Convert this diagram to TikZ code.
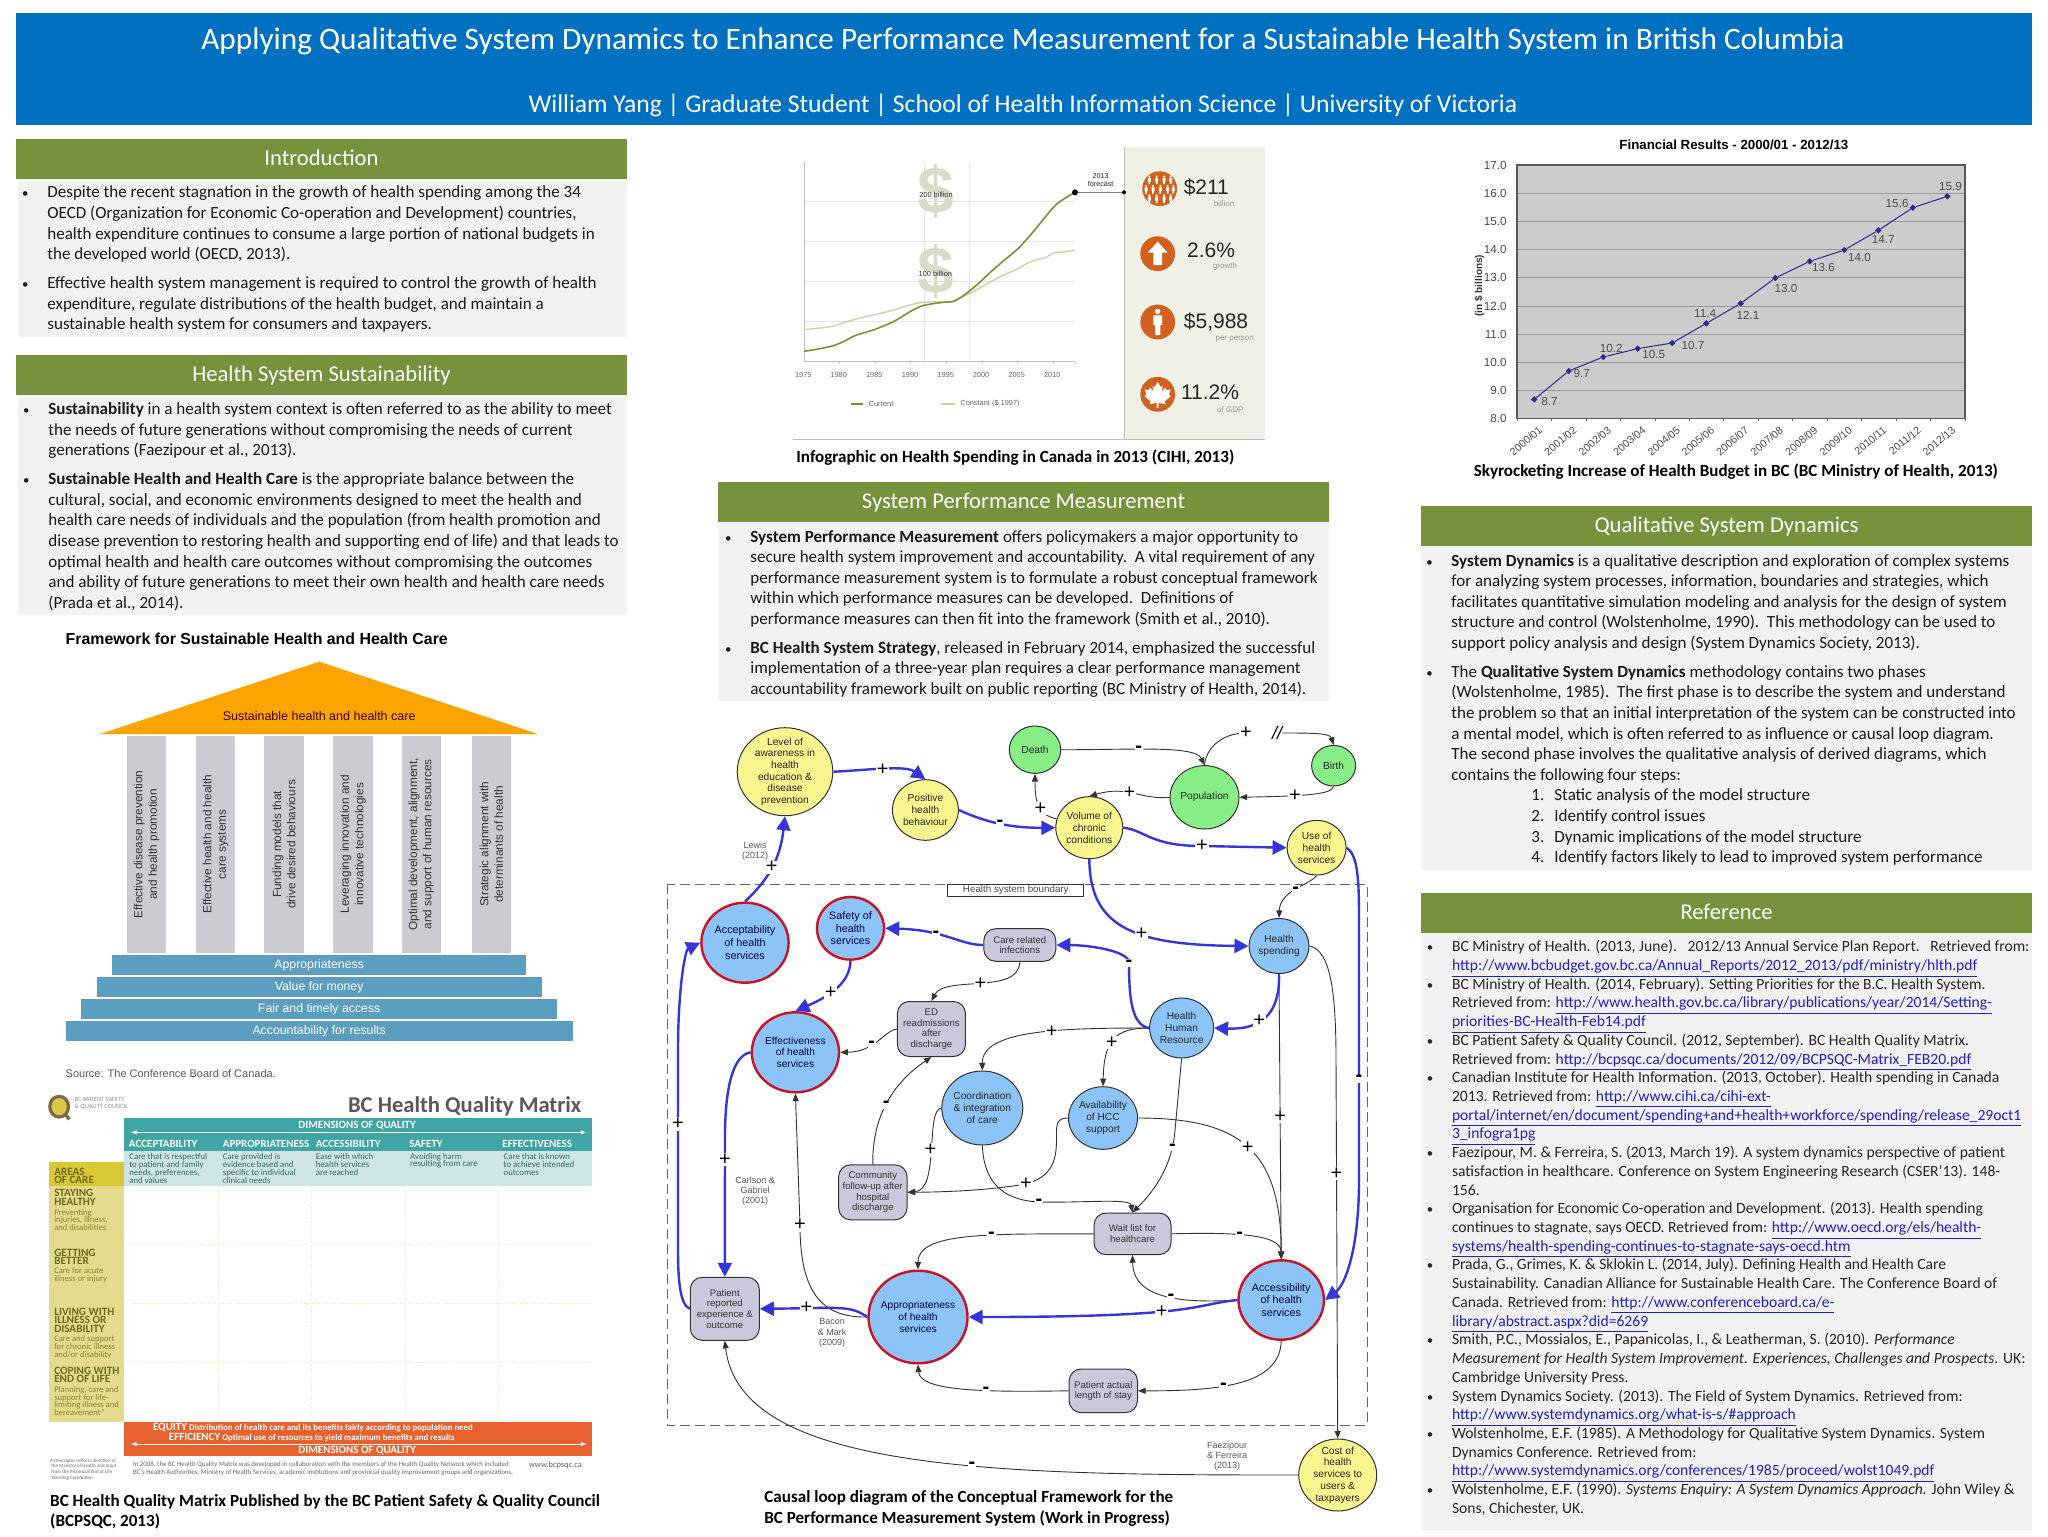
\documentclass[tikz,border=0pt]{standalone}
\usepackage{fontspec}
\setmainfont{Carlito}
\newfontfamily\arialfont{Liberation Sans}
\usepackage{xcolor}
\definecolor{DarkGrey}{HTML}{333333}
\definecolor{BannerBlue}{HTML}{0070C0}
\definecolor{SectionGreen}{HTML}{76923C}
\definecolor{BodyGrey}{HTML}{F2F2F2}
\definecolor{UrlBlue}{HTML}{1F1FD0}
\definecolor{RoofOrange}{HTML}{FCA400}
\definecolor{PillarGrey}{HTML}{C9CDD2}
\definecolor{StepBlue}{HTML}{5B9EBF}
\definecolor{MatrixTeal}{HTML}{3FA5A5}
\definecolor{MatrixPale}{HTML}{CDE5E5}
\definecolor{MatrixGold}{HTML}{D9C832}
\definecolor{MatrixSand}{HTML}{E4DC8C}
\definecolor{MatrixRed}{HTML}{E8622F}
\definecolor{MatrixInk}{HTML}{6B6A1E}
\definecolor{MatrixTint}{HTML}{8A8530}
\definecolor{MatrixTealInk}{HTML}{3A6B6B}
\definecolor{LogoBrown}{HTML}{7A6A45}
\definecolor{LogoLeaf}{HTML}{D8C84A}
\definecolor{PanelBeige}{HTML}{F0F1E6}
\definecolor{DollarTint}{HTML}{D9DDC8}
\definecolor{CurrentGreen}{HTML}{7F8F35}
\definecolor{ConstantTint}{HTML}{CDD1A8}
\definecolor{IconOrange}{HTML}{D2601E}
\definecolor{BudgetNavy}{HTML}{2A2A90}
\definecolor{PlotGrey}{HTML}{CCCCCC}
\definecolor{LoopBlue}{HTML}{3535DC}
\definecolor{LoopRed}{HTML}{CC1122}
\definecolor{NodeYellow}{HTML}{FAF68F}
\definecolor{NodeGreen}{HTML}{88EE88}
\definecolor{NodeBlue}{HTML}{8CC4F8}
\definecolor{NodeLilac}{HTML}{CCC8DC}
\usepackage{tikz}
\usetikzlibrary{arrows.meta,shapes.geometric,positioning}
\newcommand\Bul{\llap{{\fontsize{6.4}{6}\selectfont\textbullet}\hspace{9.4pt}}}
\newcommand\Url[1]{\textcolor{UrlBlue}{\underline{#1}}}
\newcommand\Num[1]{\hspace*{40pt}\makebox[11.5pt][l]{#1}}
\tikzstyle{banner}=[inner sep=0pt,text=white]
\tikzstyle{sechead}=[rectangle,fill=SectionGreen,text=white,inner sep=0pt,
                     minimum width=305.5pt,minimum height=20pt,text height=6.6pt,text depth=0pt,
                     font=\fontsize{11.3}{12}\selectfont]
\tikzstyle{bodytext}=[anchor=west,align=left,inner sep=0pt,text=black!90,
                     font=\fontsize{8.52}{10.3}\selectfont]
\tikzstyle{reftext}=[anchor=west,align=left,inner sep=0pt,text=black!85,
                     font=\fontsize{7.8}{9.36}\selectfont]
\tikzstyle{caption}=[inner sep=0pt,align=left,anchor=west,
                     font=\fontsize{8.53}{10.2}\selectfont\bfseries]
\tikzstyle{pillar}=[rectangle,fill=PillarGrey,inner sep=0pt,minimum width=19.6pt,minimum height=108.6pt]
\tikzstyle{pillartext}=[rotate=90,align=center,inner sep=0pt,text=black!80,
                     font=\arialfont\fontsize{5.9}{7.2}\selectfont]
\tikzstyle{stair}=[rectangle,fill=StepBlue,text=white,inner sep=0pt,minimum height=10pt,
                     font=\arialfont\fontsize{6.15}{6.5}\selectfont]
\tikzstyle{mhead}=[anchor=west,inner sep=0pt,text=white,font=\fontsize{5.5}{5.5}\selectfont\bfseries]
\tikzstyle{mdesc}=[anchor=west,align=left,inner sep=0pt,text=MatrixTealInk,font=\fontsize{4.4}{3.9}\selectfont]
\tikzstyle{marea}=[anchor=west,align=left,inner sep=0pt,text=MatrixInk,font=\fontsize{5.6}{4.3}\selectfont\bfseries]
\tikzstyle{mareadesc}=[anchor=west,align=left,inner sep=0pt,text=MatrixTint,font=\fontsize{4.3}{3.95}\selectfont]
\tikzstyle{mfine}=[anchor=west,align=left,inner sep=0pt,text=black!60,font=\fontsize{3.45}{4}\selectfont]
\tikzstyle{mline}=[white,line width=.5pt,{Latex[length=3pt]}-{Latex[length=3pt]}]
\tikzstyle{mdots}=[MatrixSand!70,line width=.3pt,densely dotted]
\tikzstyle{yearlabel}=[inner sep=0pt,text=black!60,font=\arialfont\fontsize{3.7}{4}\selectfont]
\tikzstyle{iconball}=[circle,fill=IconOrange,inner sep=0pt,minimum size=17.4pt]
\tikzstyle{bignum}=[inner sep=0pt,text=black!85,font=\arialfont\fontsize{10.5}{11}\selectfont]
\tikzstyle{subnum}=[inner sep=0pt,text=black!40,font=\arialfont\fontsize{4}{5}\selectfont]
\tikzstyle{budgetlabel}=[inner sep=0pt,text=black!70,font=\arialfont\fontsize{5.85}{6}\selectfont]
\tikzstyle{budgetmark}=[diamond,fill=BudgetNavy,inner sep=0pt,minimum size=3.4pt]
\tikzstyle{budgetyear}=[rotate=40,anchor=north east,inner sep=0pt,text=black!70,font=\arialfont\fontsize{5.3}{6}\selectfont]
\tikzstyle{bubble}=[ellipse,draw=DarkGrey,line width=.5pt,inner sep=-9pt,align=center,text=black!85,
                     font=\arialfont\fontsize{5.1}{5.85}\selectfont]
\tikzstyle{goal}=[bubble,draw=LoopRed,line width=1.2pt,fill=NodeBlue,text=blue!30!black]
\tikzstyle{stock}=[rectangle,rounded corners=6pt,draw=DarkGrey,line width=.5pt,fill=NodeLilac,inner sep=0pt,
                     align=center,text=black!80,font=\arialfont\fontsize{4.8}{5.3}\selectfont]
\tikzstyle{bluelink}=[draw=LoopBlue,line width=1.2pt,-{Triangle[length=7pt,width=7pt]}]
\tikzstyle{thinlink}=[draw=DarkGrey,line width=.45pt,-{Triangle[length=3.8pt,width=3pt]}]
\tikzstyle{sign}=[fill=white,inner sep=.4pt,text=black,font=\arialfont\fontsize{10}{10}\selectfont]
\tikzstyle{citation}=[inner sep=0pt,align=center,text=black!65,font=\arialfont\fontsize{4.5}{5.15}\selectfont]
\tikzset{mini/.pic={\fill[white] (0,-3.4) circle (1.15) (-1.5,-2) rectangle (1.5,1.6) (-.9,1.6) rectangle (.9,4.2);}}

\begin{document}
\begin{tikzpicture}[x=.5pt,y=-.5pt]
   \useasboundingbox (0,0) rectangle (2048,1536);
   \fill[white] (0,0) rectangle (2048,1536);
   % banner
   \fill[BannerBlue] (16,13) rectangle (2032,125);
   \node[banner,font=\fontsize{15.65}{17}\selectfont] (title) at (1023,41.5) {Applying Qualitative System Dynamics to Enhance Performance Measurement for a Sustainable Health System in British Columbia};
   \node[banner,font=\fontsize{12.8}{14}\selectfont] (author) at (1023,105.5) {William Yang \textbar{} Graduate Student \textbar{} School of Health Information Science \textbar{} University of Victoria};
   % grey text panels
   \fill[BodyGrey] (18,178) rectangle (627,337);
   \fill[BodyGrey] (18,394) rectangle (627,615);
   \fill[BodyGrey] (718,522) rectangle (1329,701);
   \fill[BodyGrey] (1421,546) rectangle (2032,870);
   \fill[BodyGrey] (1421,932) rectangle (2032,1530);
   \node[sechead] (introhead) at (321.5,158.5) {Introduction};
   \node[sechead] (hsshead) at (321.5,374.5) {Health System Sustainability};
   \node[sechead] (spmhead) at (1023.5,502) {System Performance Measurement};
   \node[sechead] (qsdhead) at (1726.5,525.5) {Qualitative System Dynamics};
   \node[sechead] (refhead) at (1726.5,912.5) {Reference};
   \node[bodytext] (introtext) at (47,259.3) {\Bul Despite the recent stagnation in the growth of health spending among the 34\\
      OECD (Organization for Economic Co-operation and Development) countries,\\
      health expenditure continues to consume a large portion of national budgets in\\
      the developed world (OECD, 2013).\\[4.1pt]
      \Bul Effective health system management is required to control the growth of health\\
      expenditure, regulate distributions of the health budget, and maintain a\\
      sustainable health system for consumers and taxpayers.};
   \node[bodytext] (hsstext) at (48,506.7) {\Bul\textbf{Sustainability} in a health system context is often referred to as the ability to meet\\
      the needs of future generations without compromising the needs of current\\
      generations (Faezipour et al., 2013).\\[4.1pt]
      \Bul\textbf{Sustainable Health and Health Care} is the appropriate balance between the\\
      cultural, social, and economic environments designed to meet the health and\\
      health care needs of individuals and the population (from health promotion and\\
      disease prevention to restoring health and supporting end of life) and that leads to\\
      optimal health and health care outcomes without compromising the outcomes\\
      and ability of future generations to meet their own health and health care needs\\
      (Prada et al., 2014).};
   \node[bodytext] (spmtext) at (750,613.8) {\Bul\textbf{System Performance Measurement} offers policymakers a major opportunity to\\
      secure health system improvement and accountability.\ \ A vital requirement of any\\
      performance measurement system is to formulate a robust conceptual framework\\
      within which performance measures can be developed.\ \ Definitions of\\
      performance measures can then fit into the framework (Smith et al., 2010).\\[4.1pt]
      \Bul\textbf{BC Health System Strategy}, released in February 2014, emphasized the successful\\
      implementation of a three-year plan requires a clear performance management\\
      accountability framework built on public reporting (BC Ministry of Health, 2014).};
   \node[bodytext] (qsdtext) at (1451,709.7) {\Bul\textbf{System Dynamics} is a qualitative description and exploration of complex systems\\
      for analyzing system processes, information, boundaries and strategies, which\\
      facilitates quantitative simulation modeling and analysis for the design of system\\
      structure and control (Wolstenholme, 1990).\ \ This methodology can be used to\\
      support policy analysis and design (System Dynamics Society, 2013).\\[4.1pt]
      \Bul The \textbf{Qualitative System Dynamics} methodology contains two phases\\
      (Wolstenholme, 1985).\ \ The first phase is to describe the system and understand\\
      the problem so that an initial interpretation of the system can be constructed into\\
      a mental model, which is often referred to as influence or causal loop diagram.\\
      The second phase involves the qualitative analysis of derived diagrams, which\\
      contains the following four steps:\\
      \Num{1.}Static analysis of the model structure\\
      \Num{2.}Identify control issues\\
      \Num{3.}Dynamic implications of the model structure\\
      \Num{4.}Identify factors likely to lead to improved system performance};
   \node[reftext] (reftext) at (1451.6,1227.8) {\Bul BC Ministry of Health. (2013, June).\hspace{3pt} 2012/13 Annual Service Plan Report.\hspace{3pt} Retrieved from:\\
      \Url{http://www.bcbudget.gov.bc.ca/Annual\_Reports/2012\_2013/pdf/ministry/hlth.pdf}\\
      \Bul BC Ministry of Health. (2014, February). Setting Priorities for the B.C. Health System.\\
      Retrieved from: \Url{http://www.health.gov.bc.ca/library/publications/year/2014/Setting-}\\
      \Url{priorities-BC-Health-Feb14.pdf}\\
      \Bul BC Patient Safety \& Quality Council. (2012, September). BC Health Quality Matrix.\\
      Retrieved from: \Url{http://bcpsqc.ca/documents/2012/09/BCPSQC-Matrix\_FEB20.pdf}\\
      \Bul Canadian Institute for Health Information. (2013, October). Health spending in Canada\\
      2013. Retrieved from: \Url{http://www.cihi.ca/cihi-ext-}\\
      \Url{portal/internet/en/document/spending+and+health+workforce/spending/release\_29oct1}\\
      \Url{3\_infogra1pg}\\
      \Bul Faezipour, M. \& Ferreira, S. (2013, March 19). A system dynamics perspective of patient\\
      satisfaction in healthcare. Conference on System Engineering Research (CSER'13). 148-\\
      156.\\
      \Bul Organisation for Economic Co-operation and Development. (2013). Health spending\\
      continues to stagnate, says OECD. Retrieved from: \Url{http://www.oecd.org/els/health-}\\
      \Url{systems/health-spending-continues-to-stagnate-says-oecd.htm}\\
      \Bul Prada, G., Grimes, K. \& Sklokin L. (2014, July). Defining Health and Health Care\\
      Sustainability. Canadian Alliance for Sustainable Health Care. The Conference Board of\\
      Canada. Retrieved from: \Url{http://www.conferenceboard.ca/e-}\\
      \Url{library/abstract.aspx?did=6269}\\
      \Bul Smith, P.C., Mossialos, E., Papanicolas, I., \& Leatherman, S. (2010). \textit{Performance}\\
      \textit{Measurement for Health System Improvement. Experiences, Challenges and Prospects.} UK:\\
      Cambridge University Press.\\
      \Bul System Dynamics Society. (2013). The Field of System Dynamics. Retrieved from:\\
      \Url{http://www.systemdynamics.org/what-is-s/\#approach}\\
      \Bul Wolstenholme, E.F. (1985). A Methodology for Qualitative System Dynamics. System\\
      Dynamics Conference. Retrieved from:\\
      \Url{http://www.systemdynamics.org/conferences/1985/proceed/wolst1049.pdf}\\
      \Bul Wolstenholme, E.F. (1990). \textit{Systems Enquiry: A System Dynamics Approach.} John Wiley \&\\
      Sons, Chichester, UK.};
   % framework temple
   \begin{scope}[shift={(0,620)},xscale=1/2.45,yscale=1/3]
      \node[anchor=west,inner sep=0pt,font=\arialfont\bfseries\fontsize{7.94}{9}\selectfont] (frametitle) at (160,56) {Framework for Sustainable Health and Health Care};
      \fill[RoofOrange] (782,125) -- (1318,342) -- (245,342) -- cycle;
      \node[inner sep=0pt,text=black!75!red,font=\arialfont\fontsize{6.26}{7}\selectfont] (rooftext) at (782,287) {Sustainable health and health care};
      \node[pillar] (pillara) at (359,673) {};
      \node[pillar] (pillarb) at (528,673) {};
      \node[pillar] (pillarc) at (696,673) {};
      \node[pillar] (pillard) at (865,673) {};
      \node[pillar] (pillare) at (1032,673) {};
      \node[pillar] (pillarf) at (1204,673) {};
      \node[pillartext] (pillaratext) at (359,673) {Effective disease prevention\\and health promotion};
      \node[pillartext] (pillarbtext) at (528,673) {Effective health and health\\care systems};
      \node[pillartext] (pillarctext) at (696,673) {Funding models that\\drive desired behaviours};
      \node[pillartext] (pillardtext) at (865,673) {Leveraging innovation and\\innovative technologies};
      \node[pillartext] (pillaretext) at (1032,673) {Optimal development, alignment,\\and support of human resources};
      \node[pillartext] (pillarftext) at (1204,673) {Strategic alignment with\\determinants of health};
      \node[stair,minimum width=207pt] (stepa) at (782,1035) {Appropriateness};
      \node[stair,minimum width=222.5pt] (stepb) at (782,1102) {Value for money};
      \node[stair,minimum width=238pt] (stepc) at (782,1168) {Fair and timely access};
      \node[stair,minimum width=253.5pt] (stepd) at (782,1234) {Accountability for results};
      \node[anchor=west,inner sep=0pt,text=black!65,font=\arialfont\fontsize{5.5}{6}\selectfont] (framesource) at (160,1362) {Source: The Conference Board of Canada.};
   \end{scope}
   % quality matrix
   \begin{scope}[shift={(0,1080)},xscale=1/2.45,yscale=1/3]
      \draw[LogoBrown,line width=1.6pt] (158,100) -- (170,118);
      \draw[LogoBrown,line width=1.6pt,fill=LogoLeaf] (145,80) ellipse (23 and 31);
      \node[inner sep=0pt,anchor=west,align=left,text=black!45,font=\fontsize{3.2}{3.1}\selectfont] (logotext) at (182,70) {BC PATIENT SAFETY\\\& QUALITY COUNCIL};
      \node[inner sep=0pt,anchor=east,text=black!65,font=\fontsize{11.3}{12}\selectfont\bfseries] (matrixtitle) at (1425,78) {BC Health Quality Matrix};
      \fill[MatrixTeal] (305,113) rectangle (1450,212);
      \fill[MatrixPale] (305,212) rectangle (1450,318);
      \fill[MatrixGold] (120,247) rectangle (305,318);
      \fill[MatrixSand] (120,318) rectangle (305,1025);
      \fill[MatrixRed] (305,1025) rectangle (1450,1129);
      \draw[mdots] (305,494) -- (1450,494) (305,670) -- (1450,670) (305,847) -- (1450,847);
      \draw[mdots] (535,318) -- (535,1025) (763,318) -- (763,1025) (994,318) -- (994,1025) (1222,318) -- (1222,1025);
      \node[inner sep=0pt,text=white,font=\fontsize{5.5}{6}\selectfont\bfseries] (dimtop) at (875,136) {DIMENSIONS OF QUALITY};
      \coordinate (dimtopl) at (320,157);
      \coordinate (dimtopr) at (1438,157);
      \draw[mline] (dimtopl) -- (dimtopr);
      \node[mhead] (headacc) at (315,193) {ACCEPTABILITY};
      \node[mhead] (headapp) at (545,193) {APPROPRIATENESS};
      \node[mhead] (headacs) at (773,193) {ACCESSIBILITY};
      \node[mhead] (headsaf) at (1002,193) {SAFETY};
      \node[mhead] (headeff) at (1230,193) {EFFECTIVENESS};
      \node[mdesc] (descacc) at (316,265) {Care that is respectful\\to patient and family\\needs, preferences,\\and values};
      \node[mdesc] (descapp) at (545,265) {Care provided is\\evidence based and\\specific to individual\\clinical needs};
      \node[mdesc] (descacs) at (773,254) {Ease with which\\health services\\are reached};
      \node[mdesc] (descsaf) at (1004,242) {Avoiding harm\\resulting from care};
      \node[mdesc] (desceff) at (1233,254) {Care that is known\\to achieve intended\\outcomes};
      \node[marea] (areahead) at (132,288) {AREAS\\OF CARE};
      \node[marea] (areaa) at (132,352) {STAYING\\HEALTHY};
      \node[mareadesc] (areaadesc) at (132,420) {Preventing\\injuries, illness,\\and disabilities};
      \node[marea] (areab) at (132,531) {GETTING\\BETTER};
      \node[mareadesc] (areabdesc) at (132,586) {Care for acute\\illness or injury};
      \node[marea] (areac) at (132,721) {LIVING WITH\\ILLNESS OR\\DISABILITY};
      \node[mareadesc] (areacdesc) at (132,801) {Care and support\\for chronic illness\\and/or disability};
      \node[marea] (aread) at (132,884) {COPING WITH\\END OF LIFE};
      \node[mareadesc] (areaddesc) at (132,963) {Planning, care and\\support for life-\\limiting illness and\\bereavement*};
      \node[mhead,font=\fontsize{4.4}{5}\selectfont\bfseries] (equity) at (374,1044) {{\fontsize{5.5}{5}\selectfont EQUITY} Distribution of health care and its benefits fairly according to population need};
      \node[mhead,font=\fontsize{4.4}{5}\selectfont\bfseries] (efficiency) at (413,1074) {{\fontsize{5.5}{5}\selectfont EFFICIENCY} Optimal use of resources to yield maximum benefits and results};
      \coordinate (dimlowl) at (320,1092);
      \coordinate (dimlowr) at (1438,1092);
      \draw[mline] (dimlowl) -- (dimlowr);
      \node[inner sep=0pt,text=white,font=\fontsize{5.5}{6}\selectfont\bfseries] (dimlow) at (875,1111) {DIMENSIONS OF QUALITY};
      \node[mfine,font=\fontsize{2.5}{2.85}\selectfont] (matrixfoot) at (122,1168) {A Descriptor reflects direction of\\\ the Ministry of Health and input\\\ from the Provincial End of Life\\\ Standing Committee.};
      \node[mfine] (matrixnote) at (325,1165) {In 2008, the BC Health Quality Matrix was developed in collaboration with the members of the Health Quality Network which included\\BC's Health Authorities, Ministry of Health Services, academic institutions and provincial quality improvement groups and organizations.};
      \node[mfine,font=\fontsize{4.2}{4.5}\selectfont] (matrixweb) at (1295,1156) {www.bcpsqc.ca};
      \node[caption] (matrixcap) at (122,1295) {BC Health Quality Matrix Published by the BC Patient Safety \& Quality Council\\(BCPSQC, 2013)};
   \end{scope}
   % spending infographic
   \begin{scope}[shift={(780,130)},scale=1/3]
      \fill[PanelBeige] (1032,52) rectangle (1455,928);
      \draw[black!25,line width=.5pt] (1032,52) -- (1032,928);
      \draw[black!25,line width=.4pt] (38,928) -- (1455,928);
      \draw[black!10,line width=.3pt] (72,214) -- (885,214) (72,335) -- (885,335) (72,455) -- (885,455) (72,575) -- (885,575);
      \draw[black!10,line width=.3pt] (433,95) -- (433,695) (568,95) -- (568,695);
      \draw[black!25,line width=.4pt] (72,95) -- (72,695) -- (885,695);
      \draw[black!25,line width=.3pt] (178,695) -- (178,703) (285,695) -- (285,703) (392,695) -- (392,703) (499,695) -- (499,703) (606,695) -- (606,703) (713,695) -- (713,703) (820,695) -- (820,703) (885,695) -- (885,703);
      \node[inner sep=0pt,text=DollarTint,font=\arialfont\bfseries\fontsize{33}{33}\selectfont] (dollarhi) at (467,185) {\$};
      \node[inner sep=0pt,text=DollarTint,font=\arialfont\bfseries\fontsize{33}{33}\selectfont] (dollarlo) at (467,425) {\$};
      \node[yearlabel,text=black!80] (billhi) at (468,194) {200 billion};
      \node[yearlabel,text=black!80] (billlo) at (466,433) {100 billion};
      \draw[ConstantTint,line width=.7pt] plot[smooth] coordinates {(72,599) (120,594) (160,588) (210,572) (270,557) (330,543) (380,528) (420,518) (480,515) (520,514) (560,495) (610,468) (660,440) (710,418) (750,396) (800,381) (820,369) (850,366) (885,360)};
      \draw[CurrentGreen,line width=.8pt] plot[smooth] coordinates {(72,664) (120,656) (160,647) (190,635) (225,617) (285,598) (340,575) (390,545) (425,528) (460,521) (490,517) (520,514) (550,497) (590,465) (630,428) (670,393) (715,355) (760,305) (820,232) (850,208) (885,187)};
      \node[circle,fill=black,inner sep=0pt,minimum size=3pt] (fcastdot) at (885,187) {};
      \node[circle,fill=black,inner sep=0pt,minimum size=2pt] (paneldot) at (1032,187) {};
      \draw[black!50,line width=.3pt] (fcastdot) -- (paneldot);
      \node[yearlabel,align=center,text=black!85,font=\arialfont\fontsize{3.6}{4.1}\selectfont] (fcast) at (962,150) {2013\\forecast};
      \node[yearlabel] (yra) at (70,735) {1975};
      \node[yearlabel] (yrb) at (176,735) {1980};
      \node[yearlabel] (yrc) at (283,735) {1985};
      \node[yearlabel] (yrd) at (390,735) {1990};
      \node[yearlabel] (yre) at (497,735) {1995};
      \node[yearlabel] (yrf) at (603,735) {2000};
      \node[yearlabel] (yrg) at (710,735) {2005};
      \node[yearlabel] (yrh) at (817,735) {2010};
      \coordinate (keycura) at (212,822);
      \coordinate (keycurb) at (250,822);
      \coordinate (keycona) at (484,822);
      \coordinate (keyconb) at (524,822);
      \draw[CurrentGreen,line width=.8pt] (keycura) -- (keycurb);
      \draw[ConstantTint,line width=.7pt] (keycona) -- (keyconb);
      \node[yearlabel,anchor=west] (keycur) at (265,822) {Current};
      \node[yearlabel,anchor=west] (keycon) at (540,822) {Constant (\$ 1997)};
      \node[iconball] (iconpeople) at (1139,176) {};
      \node[iconball] (iconarrow) at (1133,371) {};
      \node[iconball] (iconperson) at (1133,576) {};
      \node[iconball] (iconleaf) at (1133,793) {};
      \pic at (1108,150) {mini};
      \pic at (1130,150) {mini};
      \pic at (1152,150) {mini};
      \pic at (1172,150) {mini};
      \pic at (1098,178) {mini};
      \pic at (1119,178) {mini};
      \pic at (1141,178) {mini};
      \pic at (1163,178) {mini};
      \pic at (1180,178) {mini};
      \pic at (1108,206) {mini};
      \pic at (1130,206) {mini};
      \pic at (1152,206) {mini};
      \pic at (1172,206) {mini};
      \fill[white] (1133,335) -- (1163,368) -- (1146,368) -- (1146,405) -- (1120,405) -- (1120,368) -- (1103,368) -- cycle;
      \fill[white] (1133,544) circle (8) (1120,556) -- (1146,556) -- (1146,585) -- (1141,585) -- (1141,615) -- (1125,615) -- (1125,585) -- (1120,585) -- cycle;
      \fill[white] (1133,756) -- (1142,771) -- (1148,768) -- (1145,784) -- (1157,773) -- (1160,781) -- (1172,778) -- (1167,793) -- (1172,799) -- (1154,814) -- (1157,823) -- (1136,818) -- (1136,833) -- (1130,833) -- (1130,818) -- (1109,823) -- (1112,814) -- (1094,799) -- (1099,793) -- (1094,778) -- (1106,781) -- (1109,773) -- (1121,784) -- (1118,768) -- (1124,771) -- cycle;
      \node[bignum] (numa) at (1279,172) {\$211};
      \node[bignum] (numb) at (1293,362) {2.6\%};
      \node[bignum] (numc) at (1308,575) {\$5,988};
      \node[bignum] (numd) at (1290,788) {11.2\%};
      \node[subnum] (suba) at (1332,222) {billion};
      \node[subnum] (subb) at (1335,408) {growth};
      \node[subnum] (subc) at (1364,628) {per person};
      \node[subnum] (subd) at (1351,840) {of GDP};
      \node[caption] (spendcap) at (48,982) {Infographic on Health Spending in Canada in 2013 (CIHI, 2013)};
   \end{scope}
   % budget line chart
   \begin{scope}[shift={(1440,130)},xscale=1/2.61,yscale=1/3]
      \node[inner sep=0pt,font=\arialfont\bfseries\fontsize{6.64}{7}\selectfont] (budgettitle) at (767,44) {Financial Results - 2000/01 - 2012/13};
      \fill[PlotGrey] (201,105) rectangle (1370,866);
      \draw[black!40,line width=.5pt] (201,781) -- (1370,781) (201,697) -- (1370,697) (201,612) -- (1370,612) (201,528) -- (1370,528) (201,443) -- (1370,443) (201,359) -- (1370,359) (201,274) -- (1370,274) (201,189) -- (1370,189);
      \draw[black!65,line width=.7pt] (201,866) -- (201,105) -- (1370,105) -- (1370,866) -- cycle;
      \draw[black!60,line width=.3pt] (201,866) -- (201,874) (291,866) -- (291,874) (381,866) -- (381,874) (471,866) -- (471,874) (561,866) -- (561,874) (651,866) -- (651,874) (740,866) -- (740,874) (830,866) -- (830,874) (920,866) -- (920,874) (1010,866) -- (1010,874) (1100,866) -- (1100,874) (1190,866) -- (1190,874) (1280,866) -- (1280,874) (1370,866) -- (1370,874);
      \node[budgetlabel,anchor=east] (ya) at (175,866) {8.0};
      \node[budgetlabel,anchor=east] (yb) at (175,781) {9.0};
      \node[budgetlabel,anchor=east] (yc) at (175,697) {10.0};
      \node[budgetlabel,anchor=east] (yd) at (175,612) {11.0};
      \node[budgetlabel,anchor=east] (ye) at (175,528) {12.0};
      \node[budgetlabel,anchor=east] (yf) at (175,443) {13.0};
      \node[budgetlabel,anchor=east] (yg) at (175,359) {14.0};
      \node[budgetlabel,anchor=east] (yh) at (175,274) {15.0};
      \node[budgetlabel,anchor=east] (yi) at (175,189) {16.0};
      \node[budgetlabel,anchor=east] (yj) at (175,105) {17.0};
      \node[rotate=90,inner sep=0pt,text=black!80,font=\arialfont\bfseries\fontsize{5}{6}\selectfont] (yunit) at (103,467) {(in \$ billions)};
      \node[budgetmark] (pa) at (246,808) {};
      \node[budgetmark] (pb) at (336,723) {};
      \node[budgetmark] (pc) at (426,681) {};
      \node[budgetmark] (pd) at (516,656) {};
      \node[budgetmark] (pe) at (606,639) {};
      \node[budgetmark] (pf) at (695,580) {};
      \node[budgetmark] (pg) at (785,520) {};
      \node[budgetmark] (ph) at (875,444) {};
      \node[budgetmark] (pi) at (965,394) {};
      \node[budgetmark] (pj) at (1055,360) {};
      \node[budgetmark] (pk) at (1144,301) {};
      \node[budgetmark] (pl) at (1234,233) {};
      \node[budgetmark] (pm) at (1324,199) {};
      \draw[BudgetNavy,line width=.5pt] (pa) -- (pb) -- (pc) -- (pd) -- (pe) -- (pf) -- (pg) -- (ph) -- (pi) -- (pj) -- (pk) -- (pl) -- (pm);
      \node[budgetlabel] (va) at (286,815) {8.7};
      \node[budgetlabel] (vb) at (370,730) {9.7};
      \node[budgetlabel] (vc) at (447,655) {10.2};
      \node[budgetlabel] (vd) at (558,672) {10.5};
      \node[budgetlabel] (ve) at (660,645) {10.7};
      \node[budgetlabel] (vf) at (692,551) {11.4};
      \node[budgetlabel] (vg) at (804,557) {12.1};
      \node[budgetlabel] (vh) at (903,474) {13.0};
      \node[budgetlabel] (vi) at (1001,412) {13.6};
      \node[budgetlabel] (vj) at (1095,381) {14.0};
      \node[budgetlabel] (vk) at (1157,327) {14.7};
      \node[budgetlabel] (vl) at (1193,220) {15.6};
      \node[budgetlabel] (vm) at (1332,169) {15.9};
      \node[budgetyear] (xa) at (256,885) {2000/01};
      \node[budgetyear] (xb) at (346,885) {2001/02};
      \node[budgetyear] (xc) at (436,885) {2002/03};
      \node[budgetyear] (xd) at (526,885) {2003/04};
      \node[budgetyear] (xe) at (616,885) {2004/05};
      \node[budgetyear] (xf) at (705,885) {2005/06};
      \node[budgetyear] (xg) at (795,885) {2006/07};
      \node[budgetyear] (xh) at (885,885) {2007/08};
      \node[budgetyear] (xi) at (975,885) {2008/09};
      \node[budgetyear] (xj) at (1065,885) {2009/10};
      \node[budgetyear] (xk) at (1154,885) {2010/11};
      \node[budgetyear] (xl) at (1244,885) {2011/12};
      \node[budgetyear] (xm) at (1334,885) {2012/13};
      \node[caption] (budgetcap) at (87,1026) {Skyrocketing Increase of Health Budget in BC (BC Ministry of Health, 2013)};
   \end{scope}
   % causal loop diagram
   \draw[black!60,line width=.5pt,dashed,dash pattern=on 5pt off 2.5pt] (667,884) rectangle (1367,1425.7);
   \node[rectangle,draw=DarkGrey,line width=.4pt,fill=white,inner sep=0pt,minimum width=68pt,minimum height=6.4pt,text=black!70,font=\arialfont\fontsize{4.9}{5}\selectfont] (boundary) at (1015.8,890.3) {Health system boundary};
   \node[bubble,fill=NodeYellow,minimum width=47.8pt,minimum height=44pt] (level) at (785,771.7) {Level of\\awareness in\\health\\education \&\\disease\\prevention};
   \node[bubble,fill=NodeYellow,minimum width=33pt,minimum height=30.3pt] (positive) at (925.4,810) {Positive\\health\\behaviour};
   \node[bubble,fill=NodeGreen,minimum width=25.7pt,minimum height=23.7pt] (death) at (1035,749.7) {Death};
   \node[bubble,fill=NodeGreen,minimum width=34.5pt,minimum height=31.7pt] (population) at (1204.5,797.3) {Population};
   \node[bubble,fill=NodeGreen,minimum width=22pt,minimum height=20.3pt] (birth) at (1333.6,765.7) {Birth};
   \node[bubble,fill=NodeYellow,minimum width=33.5pt,minimum height=31pt] (volume) at (1089.3,827.7) {Volume of\\chronic\\conditions};
   \node[bubble,fill=NodeYellow,minimum width=29.5pt,minimum height=27.3pt] (use) at (1316.6,847.7) {Use of\\health\\services};
   \node[goal,font=\arialfont\fontsize{5.4}{6.4}\selectfont,minimum width=43.6pt,minimum height=40pt] (accept) at (745,942.7) {Acceptability\\of health\\services};
   \node[goal,font=\arialfont\fontsize{5.4}{6.4}\selectfont,minimum width=33.5pt,minimum height=31.3pt] (safety) at (850.5,928.3) {Safety of\\health\\services};
   \node[stock,minimum width=36pt,minimum height=16.3pt] (infect) at (1019.8,945) {Care related\\infections};
   \node[bubble,fill=NodeBlue,minimum width=30pt,minimum height=27.5pt] (spending) at (1279,946) {Health\\spending};
   \node[stock,minimum width=34pt,minimum height=27.5pt] (readmit) at (931.4,1029) {ED\\readmissions\\after\\discharge};
   \node[goal,minimum width=43.6pt,minimum height=40pt] (effective) at (795.4,1052.3) {Effectiveness\\of health\\services};
   \node[bubble,fill=NodeBlue,minimum width=32pt,minimum height=30pt] (workforce) at (1181.6,1028) {Health\\Human\\Resource};
   \node[bubble,fill=NodeBlue,minimum width=40.5pt,minimum height=37pt] (coord) at (982.3,1108) {Coordination\\\& integration\\of care};
   \node[bubble,fill=NodeBlue,minimum width=34.5pt,minimum height=31.3pt] (avail) at (1103,1118) {Availability\\of HCC\\support};
   \node[stock,minimum width=34.2pt,minimum height=27.5pt] (followup) at (872.8,1192.3) {Community\\follow-up after\\hospital\\discharge};
   \node[stock,minimum width=38.5pt,minimum height=20.8pt] (waitlist) at (1132.5,1233.8) {Wait list for\\healthcare};
   \node[stock,minimum width=34.5pt,minimum height=31.5pt] (reported) at (724.8,1308.8) {Patient\\reported\\experience \&\\outcome};
   \node[goal,minimum width=49.5pt,minimum height=46.3pt] (approp) at (918,1317) {Appropriateness\\of health\\services};
   \node[goal,font=\arialfont\fontsize{5.4}{6.4}\selectfont,minimum width=42.7pt,minimum height=39.7pt] (access) at (1281.2,1300) {Accessibility\\of health\\services};
   \node[stock,minimum width=34.2pt,minimum height=21.8pt] (stay) at (1103.3,1390.8) {Patient actual\\length of stay};
   \node[bubble,fill=NodeYellow,minimum width=39pt,minimum height=36pt] (cost) at (1337.7,1475) {Cost of\\health\\services to\\users \&\\taxpayers};
   \node[inner sep=0pt,font=\arialfont\itshape\fontsize{9}{9}\selectfont] (delay) at (1277,733) {//};
   \node[citation] (citelewis) at (755,851) {Lewis\\(2012)};
   \node[citation] (citecarlson) at (755,1191) {Carlson \&\\Gabriel\\(2001)};
   \node[citation] (citebacon) at (832,1333) {Bacon\\\& Mark\\(2009)};
   \node[citation] (citefaez) at (1227,1456) {Faezipour\\\& Ferreira\\(2013)};
   % thin links
   \draw[thinlink] (volume.165) .. controls (1042,815) and (1035,810) .. node[sign,pos=.5] (sga) {+} (death.south);
   \draw[thinlink] (death.east) .. controls (1130,750) and (1195,745) .. node[sign,pos=.4] (sgb) {\textbf{-}} (population.north);
   \draw[draw=DarkGrey,line width=.45pt] (population.north) .. controls (1206,748) and (1222,733) .. node[sign,pos=1] (sgc) {+} (1246,733);
   \draw[thinlink] (delay.east) .. controls (1310,733) and (1330,733) .. (birth.north);
   \draw[thinlink] (birth.south) .. controls (1332,795) and (1300,796) .. node[sign,pos=.63] (sgd) {+} (population.east);
   \draw[thinlink] (population.west) .. controls (1140,800) and (1128,785) .. node[sign,pos=.55] (sge) {+} (volume.north);
   \draw[thinlink] (use.south) .. controls (1310,885) and (1280,890) .. node[sign,pos=.5] (sgf) {\textbf{-}} (spending.north);
   \draw[thinlink] (spending.east) .. controls (1330,950) and (1336,990) .. (1336,1060) -- node[sign,pos=.3] (sgg) {+} (cost.north);
   \draw[thinlink] (spending.south) -- node[sign,pos=.5] (sgh) {+} (access.north);
   \draw[thinlink] (infect.south) .. controls (1019,995) and (945,975) .. node[sign,pos=.5] (sgi) {+} (readmit.north);
   \draw[thinlink] (readmit.west) .. controls (885,1030) and (875,1052) .. node[sign,pos=.6] (sgj) {\textbf{-}} (effective.east);
   \draw[thinlink] (followup.north) .. controls (872,1120) and (890,1085) .. node[sign,pos=.5] (sgk) {\textbf{-}} (readmit.south);
   \draw[thinlink] (approp.west) .. controls (820,1318) and (800,1290) .. (800,1225) -- node[sign,pos=0] (sgl) {+} (effective.south);
   \draw[thinlink] (access.west) .. controls (1160,1305) and (1133,1290) .. node[sign,pos=.37] (sgm) {\textbf{-}} (waitlist.south);
   \draw[thinlink] (waitlist.east) .. controls (1240,1232) and (1281,1235) .. node[sign,pos=.4] (sgn) {\textbf{-}} (access.north);
   \draw[thinlink] (waitlist.west) .. controls (990,1234) and (918,1232) .. node[sign,pos=.38] (sgo) {\textbf{-}} (approp.north);
   \draw[thinlink] (access.south) .. controls (1280,1385) and (1220,1391) .. node[sign,pos=.6] (sgp) {\textbf{-}} (stay.east);
   \draw[thinlink] (stay.west) .. controls (990,1392) and (920,1392) .. node[sign,pos=.38] (sgq) {\textbf{-}} (approp.south);
   \draw[thinlink] (cost.west) .. controls (1000,1475) and (740,1472) .. node[sign,pos=.4] (sgr) {\textbf{-}} (reported.south);
   \draw[thinlink] (workforce.west) .. controls (1060,1028) and (982,1030) .. node[sign,pos=.4] (sgs) {+} (coord.north);
   \draw[thinlink] (workforce.west) .. controls (1115,1028) and (1104,1040) .. node[sign,pos=.55] (sgt) {+} (avail.north);
   \draw[thinlink] (workforce.south) -- (1175,1130) .. controls (1172,1170) and (1150,1195) .. node[sign,pos=.15] (sgu) {\textbf{-}} (waitlist.north);
   \draw[thinlink] (coord.west) .. controls (925,1110) and (940,1190) .. node[sign,pos=.5] (sgv) {+} (followup.east);
   \draw[thinlink] (avail.west) .. controls (1052,1118) and (1058,1130) .. (1056,1150) .. controls (1054,1172) and (1040,1180) .. node[sign,pos=1] (sgw) {+} (1026,1184) .. controls (990,1190) and (950,1192) .. (followup.east);
   \draw[thinlink] (coord.south) .. controls (984,1180) and (1000,1200) .. node[sign,pos=1] (sgx) {\textbf{-}} (1039,1202) .. controls (1085,1203) and (1130,1198) .. (waitlist.north);
   \draw[thinlink] (avail.east) .. controls (1240,1118) and (1281,1150) .. node[sign,pos=.5] (sgy) {+} (access.north);
   % blue links
   \draw[bluelink] (accept.north) .. controls (768,880) and (780,860) .. node[sign,pos=.5] (sba) {+} (level.south);
   \draw[bluelink] (level.east) .. controls (870,770) and (905,765) .. node[sign,pos=.47] (sbb) {+} (positive.north);
   \draw[bluelink] (positive.east) .. controls (985,822) and (1010,828) .. node[sign,pos=.5] (sbc) {\textbf{-}} (volume.west);
   \draw[bluelink] (volume.east) .. controls (1145,830) and (1150,846) .. node[sign,pos=1] (sbd) {+} (1202,846) -- (use.west);
   \draw[bluelink] (volume.south) .. controls (1090,925) and (1130,945) .. node[sign,pos=.6] (sbe) {+} (spending.west);
   \draw[bluelink] (use.east) .. controls (1358,855) and (1359,880) .. (1359,920) -- node[sign,pos=.61] (sbf) {\textbf{-}} (1359,1180) .. controls (1359,1250) and (1345,1285) .. (access.east);
   \draw[bluelink] (spending.south) .. controls (1280,1010) and (1265,1030) .. node[sign,pos=.6] (sbg) {+} (workforce.east);
   \draw[bluelink] (workforce.west) .. controls (1132,1025) and (1129,1000) .. node[sign,pos=1] (sbh) {\textbf{-}} (1129,963) .. controls (1129,950) and (1085,945) .. (infect.east);
   \draw[bluelink] (infect.west) .. controls (960,945) and (945,930) .. node[sign,pos=.63] (sbi) {\textbf{-}} (safety.east);
   \draw[bluelink] (safety.south) .. controls (850,985) and (825,998) .. node[sign,pos=.55] (sbj) {+} (effective.north);
   \draw[bluelink] (reported.west) .. controls (680,1305) and (678,1280) .. (678,1250) -- node[sign,pos=.63] (sbk) {+} (678,1050) .. controls (678,990) and (685,950) .. (accept.west);
   \draw[bluelink] (effective.west) .. controls (735,1055) and (726,1080) .. (725,1130) -- node[sign,pos=.2] (sbl) {+} (reported.north);
   \draw[bluelink] (approp.west) .. controls (850,1305) and (840,1308) .. node[sign,pos=.76] (sbm) {+} (reported.east);
   \draw[bluelink] (access.west) .. controls (1190,1305) and (1200,1317) .. node[sign,pos=.55] (sbn) {+} (approp.east);
   \node[caption,align=left] (loopcap) at (764,1508.3) {Causal loop diagram of the Conceptual Framework for the\\BC Performance Measurement System (Work in Progress)};
\end{tikzpicture}
\end{document}
